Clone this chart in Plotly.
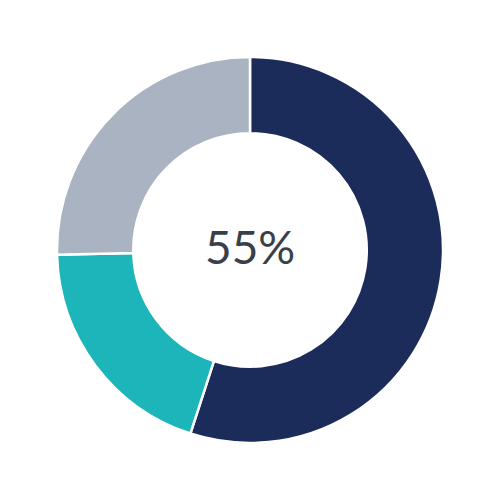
import plotly.graph_objects as go

labels = ["Navy", "Teal", "Gray"]
values = [55, 19.6, 25.4]
colors = ["#1b2b5a", "#1cb5b9", "#a9b3c1"]
center_text = "55%"

fig = go.Figure(go.Pie(
    labels=labels,
    values=values,
    hole=0.605,
    sort=False,
    direction="clockwise",
    rotation=0,
    marker=dict(colors=colors, line=dict(color="white", width=2.5)),
    textinfo="none",
    hoverinfo="label+percent",
))
# page body adds 8px, so shift the plot area up/left to keep the ring centred
fig.update_layout(
    width=500, height=500,
    margin=dict(l=49, r=65, t=49, b=65),
    showlegend=False,
    paper_bgcolor="white",
    annotations=[dict(text=center_text, x=0.5, y=0.5, xref="paper", yref="paper",
                      yshift=4, showarrow=False,
                      font=dict(family="Lato", size=46, color="#3a4047"))],
)
fig.write_html("out.html")
